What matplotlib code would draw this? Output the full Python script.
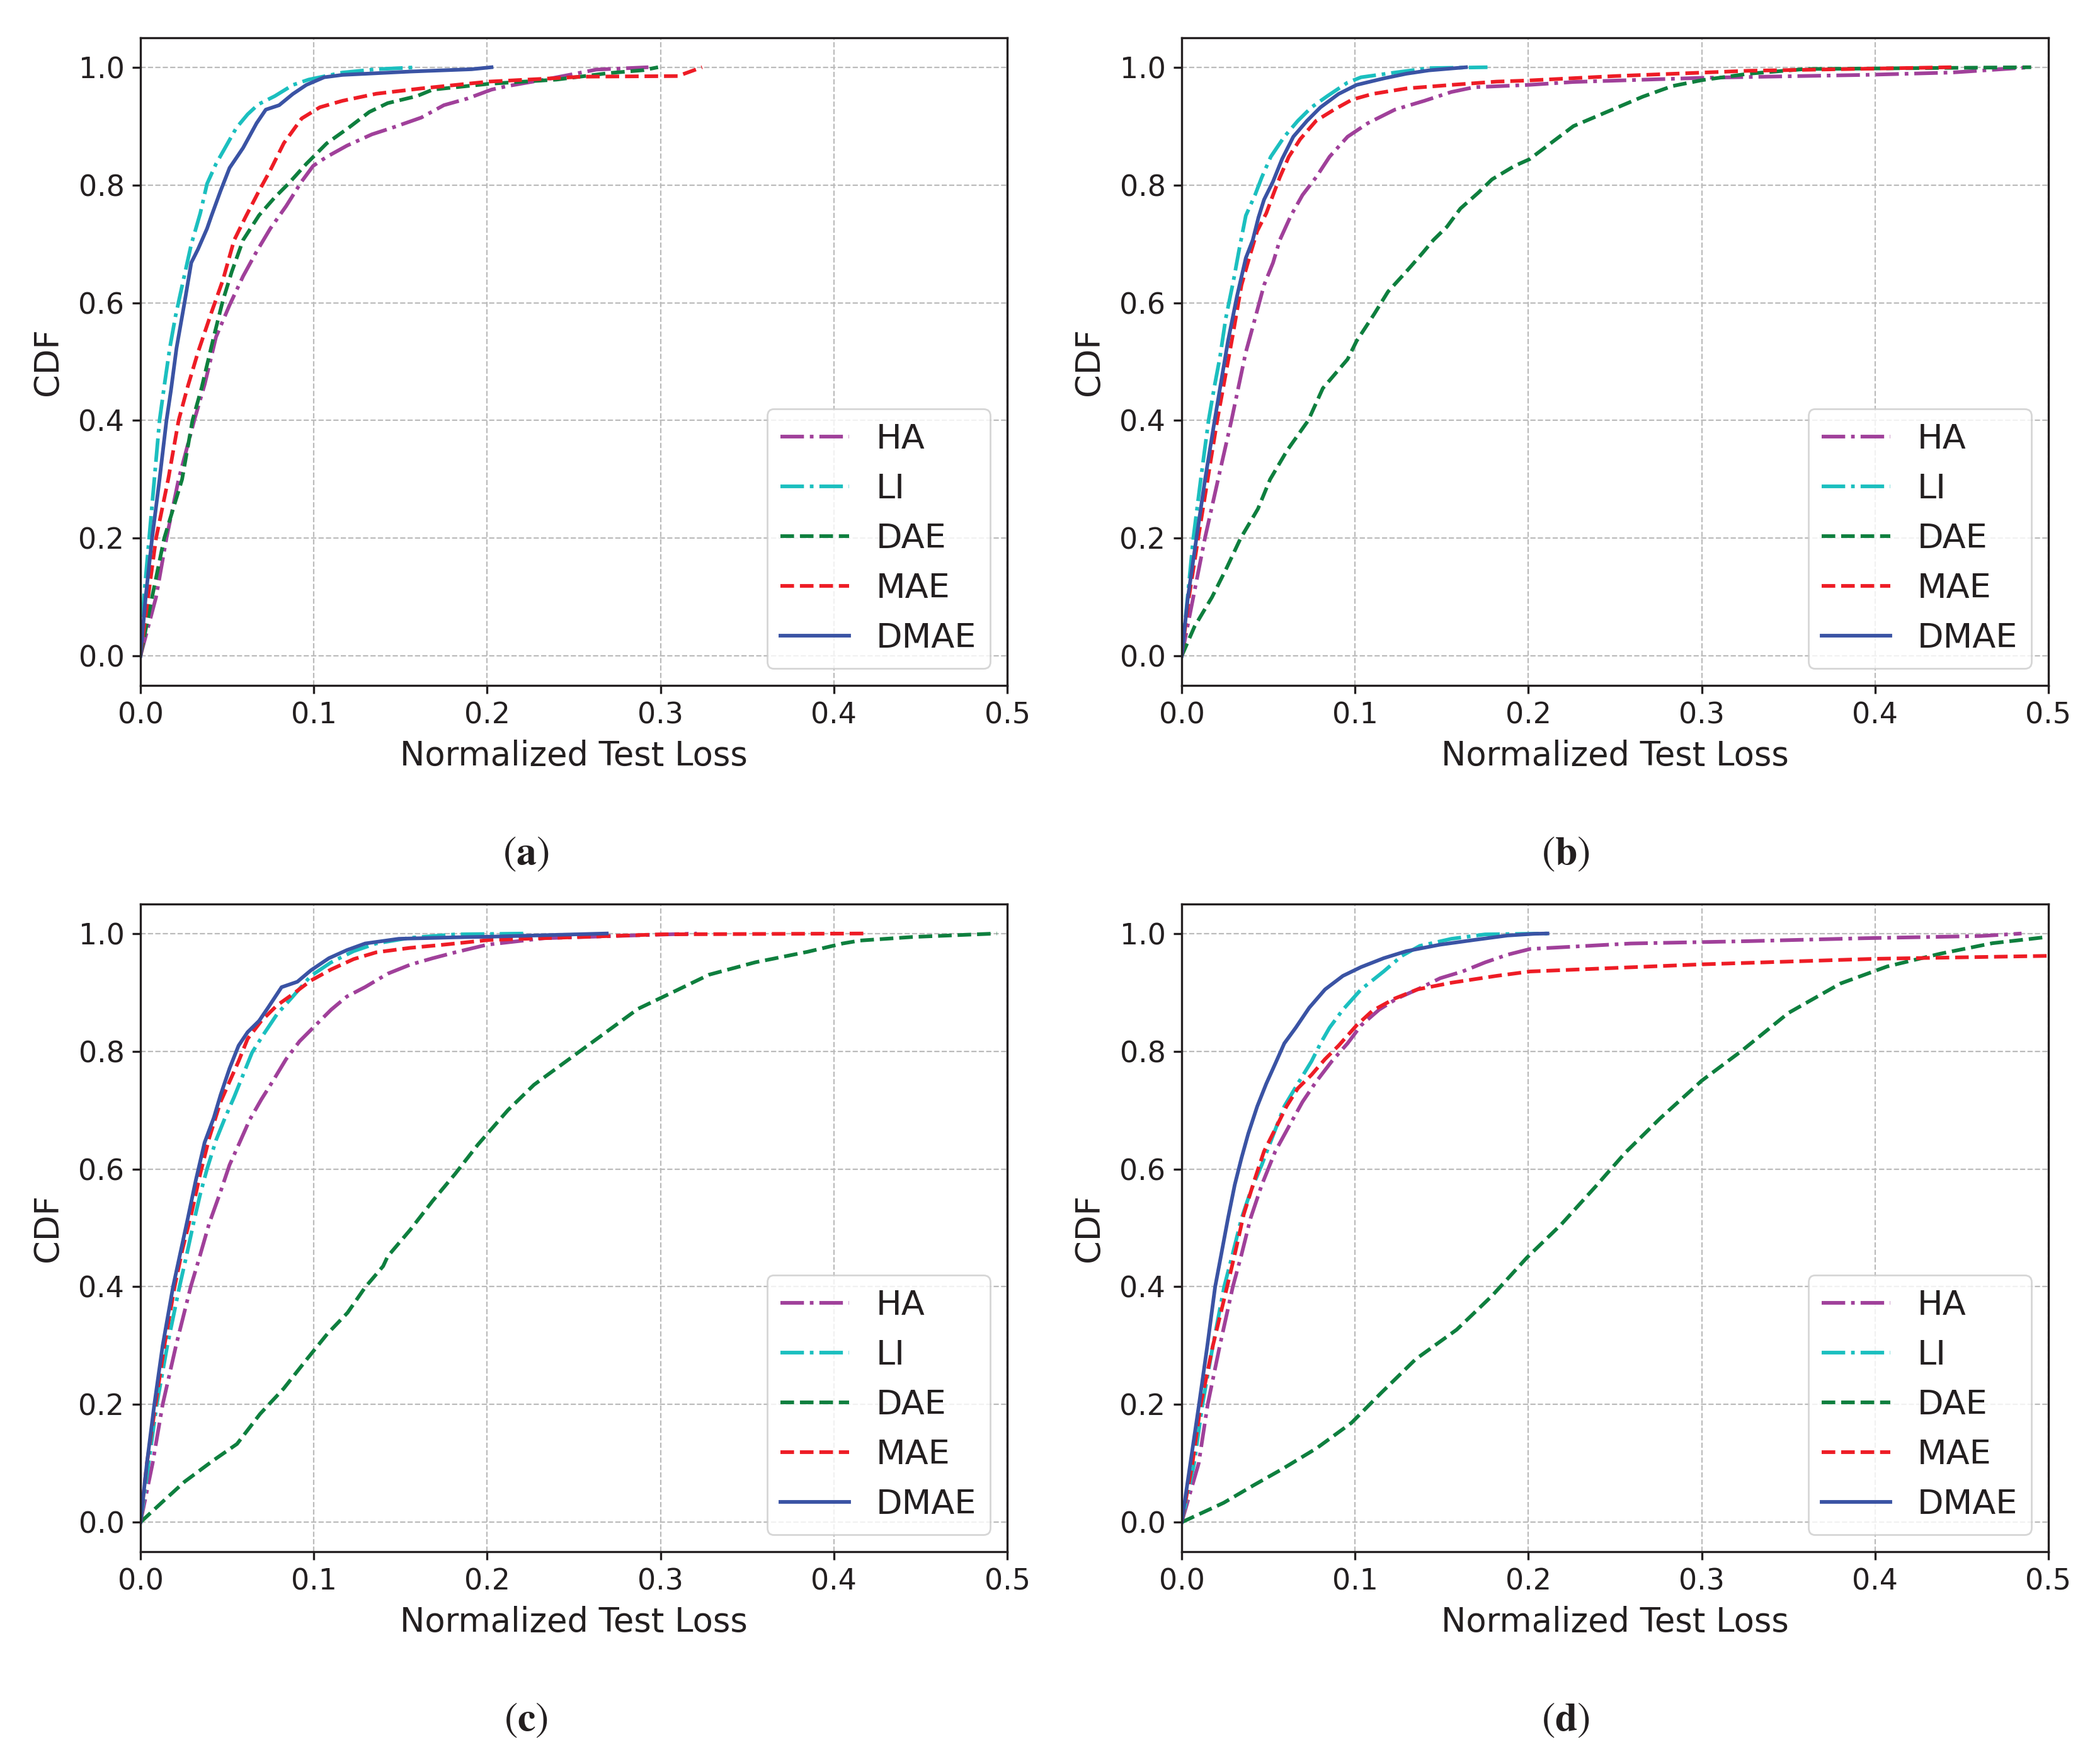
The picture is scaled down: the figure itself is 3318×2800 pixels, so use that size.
import matplotlib
matplotlib.use("Agg")
import matplotlib.pyplot as plt

# ---------------- data ----------------
METHODS = ["HA", "LI", "DAE", "MAE", "DMAE"]
PANELS = ["a", "b", "c", "d"]
X_TICKS = [0.0, 0.1, 0.2, 0.3, 0.4, 0.5]
Y_TICKS = [0.0, 0.2, 0.4, 0.6, 0.8, 1.0]
X_LABEL = "Normalized Test Loss"
Y_LABEL = "CDF"

# ----- panel (a) -----
A_HA_X = [0, 0.009, 0.015, 0.022, 0.031, 0.0371, 0.0436, 0.0514, 0.0592, 0.067, 0.0749, 0.084, 0.093, 0.0996, 0.1074, 0.1191, 0.1335, 0.145, 0.162, 0.175, 0.1888, 0.2025, 0.2117, 0.235, 0.263, 0.293]
A_HA_Y = [0, 0.1, 0.2, 0.3, 0.4, 0.462, 0.542, 0.596, 0.645, 0.687, 0.726, 0.764, 0.806, 0.8324, 0.8477, 0.8668, 0.886, 0.897, 0.9145, 0.9355, 0.947, 0.962, 0.968, 0.98, 0.996, 1.0]
A_LI_X = [0, 0.002, 0.005, 0.008, 0.011, 0.0137, 0.0169, 0.0202, 0.0247, 0.0293, 0.0345, 0.0384, 0.0436, 0.0488, 0.0553, 0.0618, 0.068, 0.0775, 0.088, 0.097, 0.1165, 0.136, 0.160]
A_LI_Y = [0, 0.1, 0.2, 0.3, 0.4, 0.458, 0.523, 0.577, 0.638, 0.699, 0.752, 0.802, 0.836, 0.863, 0.897, 0.920, 0.937, 0.951, 0.970, 0.979, 0.991, 0.9966, 1.0]
A_DAE_X = [0, 0.0067, 0.0137, 0.024, 0.030, 0.0352, 0.0423, 0.0475, 0.0527, 0.0592, 0.0684, 0.0775, 0.0853, 0.0957, 0.1074, 0.120, 0.132, 0.1426, 0.1595, 0.1686, 0.201, 0.24, 0.27, 0.29, 0.2986]
A_DAE_Y = [0, 0.1, 0.2, 0.3, 0.4, 0.4546, 0.5424, 0.6034, 0.653, 0.7065, 0.7485, 0.779, 0.802, 0.836, 0.8706, 0.897, 0.924, 0.939, 0.951, 0.962, 0.9718, 0.979, 0.99, 0.995, 1.0]
A_MAE_X = [0, 0.0044, 0.009, 0.016, 0.022, 0.0273, 0.0332, 0.041, 0.0475, 0.054, 0.0605, 0.0684, 0.0749, 0.0827, 0.093, 0.1035, 0.1165, 0.136, 0.162, 0.201, 0.23, 0.255, 0.31, 0.324]
A_MAE_Y = [0, 0.1, 0.2, 0.3, 0.4, 0.458, 0.516, 0.584, 0.638, 0.706, 0.745, 0.790, 0.825, 0.871, 0.913, 0.932, 0.943, 0.955, 0.964, 0.9756, 0.980, 0.984, 0.985, 1.0]
A_DMAE_X = [0, 0.003, 0.0067, 0.011, 0.015, 0.0176, 0.0208, 0.0254, 0.0293, 0.0332, 0.0384, 0.041, 0.0462, 0.0514, 0.0592, 0.067, 0.0723, 0.080, 0.0879, 0.0957, 0.106, 0.1165, 0.1556, 0.191, 0.2025]
A_DMAE_Y = [0, 0.1, 0.2, 0.3, 0.4, 0.4515, 0.523, 0.600, 0.668, 0.691, 0.726, 0.748, 0.790, 0.829, 0.863, 0.905, 0.928, 0.9355, 0.9546, 0.970, 0.983, 0.987, 0.9927, 0.9966, 1.0]

# ----- panel (b) -----
B_HA_X = [0, 0.0067, 0.0134, 0.021, 0.0287, 0.0326, 0.037, 0.0423, 0.0475, 0.0527, 0.0566, 0.063, 0.0697, 0.0775, 0.0853, 0.0957, 0.1074, 0.123, 0.14, 0.1556, 0.1686, 0.200, 0.226, 0.30, 0.394, 0.444, 0.49]
B_HA_Y = [0, 0.1, 0.2, 0.3, 0.4, 0.4546, 0.516, 0.573, 0.630, 0.668, 0.7065, 0.748, 0.783, 0.813, 0.848, 0.882, 0.905, 0.928, 0.943, 0.958, 0.966, 0.970, 0.975, 0.982, 0.987, 0.991, 1.0]
B_LI_X = [0, 0.0034, 0.0067, 0.011, 0.0155, 0.0189, 0.0221, 0.0254, 0.0299, 0.0332, 0.037, 0.0423, 0.0462, 0.0514, 0.0592, 0.067, 0.0749, 0.084, 0.0957, 0.1035, 0.123, 0.1426, 0.1764]
B_LI_Y = [0, 0.1, 0.2, 0.3, 0.4, 0.458, 0.508, 0.573, 0.638, 0.691, 0.748, 0.783, 0.813, 0.848, 0.882, 0.909, 0.932, 0.951, 0.974, 0.983, 0.991, 0.9985, 1.0]
B_DAE_X = [0, 0.0074, 0.0175, 0.026, 0.034, 0.044, 0.051, 0.061, 0.073, 0.0814, 0.0957, 0.1009, 0.111, 0.119, 0.1296, 0.1387, 0.1452, 0.153, 0.1608, 0.171, 0.179, 0.192, 0.2006, 0.226, 0.246, 0.266, 0.283, 0.30, 0.327, 0.36, 0.49]
B_DAE_Y = [0, 0.05, 0.1, 0.15, 0.2, 0.25, 0.3, 0.35, 0.4, 0.4546, 0.504, 0.535, 0.5805, 0.6187, 0.653, 0.6836, 0.7065, 0.729, 0.760, 0.7866, 0.8095, 0.8324, 0.8437, 0.90, 0.925, 0.95, 0.968, 0.978, 0.989, 0.997, 1.0]
B_MAE_X = [0, 0.0042, 0.0095, 0.015, 0.0205, 0.0241, 0.0293, 0.0345, 0.0397, 0.0436, 0.0488, 0.0527, 0.0566, 0.0618, 0.0684, 0.0775, 0.0879, 0.0983, 0.110, 0.1296, 0.1556, 0.1816, 0.200, 0.25, 0.327, 0.444]
B_MAE_Y = [0, 0.1, 0.2, 0.3, 0.4, 0.458, 0.542, 0.630, 0.6836, 0.722, 0.752, 0.783, 0.813, 0.848, 0.878, 0.909, 0.928, 0.945, 0.9546, 0.964, 0.970, 0.9756, 0.9775, 0.985, 0.994, 1.0]
B_DMAE_X = [0, 0.0036, 0.0085, 0.0135, 0.019, 0.0221, 0.0267, 0.0319, 0.037, 0.041, 0.0443, 0.0475, 0.0527, 0.0579, 0.0644, 0.0723, 0.0801, 0.0905, 0.1009, 0.1165, 0.1296, 0.1426, 0.164]
B_DMAE_Y = [0, 0.1, 0.2, 0.3, 0.4, 0.4546, 0.5347, 0.611, 0.676, 0.7065, 0.745, 0.775, 0.806, 0.844, 0.882, 0.909, 0.932, 0.9546, 0.970, 0.981, 0.989, 0.9947, 1.0]

# ----- panel (c) -----
C_HA_X = [0, 0.007, 0.0128, 0.0205, 0.029, 0.0345, 0.0397, 0.0462, 0.0514, 0.0566, 0.063, 0.0697, 0.0762, 0.084, 0.0918, 0.0996, 0.110, 0.1191, 0.1296, 0.1426, 0.1556, 0.1686, 0.1816, 0.200, 0.233, 0.321]
C_HA_Y = [0, 0.1, 0.2, 0.3, 0.4, 0.4546, 0.508, 0.5615, 0.607, 0.641, 0.6836, 0.718, 0.7485, 0.7866, 0.817, 0.840, 0.8706, 0.893, 0.909, 0.9317, 0.947, 0.958, 0.968, 0.981, 0.992, 1.0]
C_LI_X = [0, 0.0047, 0.0094, 0.0155, 0.0225, 0.0267, 0.0306, 0.0345, 0.0384, 0.0436, 0.0488, 0.054, 0.0592, 0.0644, 0.071, 0.0788, 0.0879, 0.0983, 0.110, 0.123, 0.136, 0.1556, 0.1816, 0.224]
C_LI_Y = [0, 0.1, 0.2, 0.3, 0.4, 0.4546, 0.508, 0.5576, 0.600, 0.649, 0.687, 0.722, 0.760, 0.798, 0.8286, 0.863, 0.893, 0.928, 0.951, 0.970, 0.983, 0.9927, 0.9985, 1.0]
C_DAE_X = [0, 0.0121, 0.0255, 0.042, 0.0557, 0.069, 0.0826, 0.096, 0.1078, 0.1195, 0.1296, 0.140, 0.1426, 0.1556, 0.1686, 0.1816, 0.1947, 0.212, 0.227, 0.247, 0.267, 0.287, 0.3076, 0.328, 0.3546, 0.385, 0.405, 0.415, 0.445, 0.494]
C_DAE_Y = [0, 0.033, 0.069, 0.105, 0.133, 0.184, 0.227, 0.277, 0.320, 0.356, 0.399, 0.435, 0.4515, 0.4966, 0.546, 0.592, 0.6416, 0.700, 0.743, 0.786, 0.829, 0.872, 0.901, 0.930, 0.951, 0.969, 0.983, 0.988, 0.994, 1.0]
C_MAE_X = [0, 0.0037, 0.0087, 0.0138, 0.0197, 0.0241, 0.0293, 0.0345, 0.0397, 0.0462, 0.0514, 0.0566, 0.0618, 0.0697, 0.0788, 0.0879, 0.0983, 0.110, 0.123, 0.136, 0.1556, 0.175, 0.201, 0.30, 0.418]
C_MAE_Y = [0, 0.1, 0.2, 0.3, 0.4, 0.462, 0.523, 0.592, 0.653, 0.714, 0.7485, 0.783, 0.821, 0.8515, 0.878, 0.897, 0.920, 0.939, 0.9565, 0.968, 0.9756, 0.981, 0.989, 0.9985, 1.0]
C_DMAE_X = [0, 0.0037, 0.008, 0.0128, 0.0188, 0.0228, 0.0273, 0.0319, 0.037, 0.0423, 0.0462, 0.0514, 0.0566, 0.0618, 0.0684, 0.0736, 0.0814, 0.0905, 0.0983, 0.1087, 0.1191, 0.1296, 0.149, 0.1816, 0.2035, 0.269]
C_DMAE_Y = [0, 0.1, 0.2, 0.3, 0.4, 0.4546, 0.516, 0.5805, 0.645, 0.687, 0.7256, 0.771, 0.8095, 0.8324, 0.8515, 0.874, 0.9088, 0.918, 0.9374, 0.958, 0.9718, 0.983, 0.991, 0.9935, 0.9947, 1.0]

# ----- panel (d) -----
D_HA_X = [0, 0.0098, 0.015, 0.022, 0.0295, 0.0345, 0.0397, 0.0462, 0.054, 0.0618, 0.0697, 0.0775, 0.0866, 0.0957, 0.1035, 0.1139, 0.1243, 0.136, 0.1491, 0.162, 0.1751, 0.188, 0.201, 0.259, 0.327, 0.394, 0.461, 0.4845]
D_HA_Y = [0, 0.1, 0.2, 0.3, 0.4, 0.4546, 0.516, 0.573, 0.630, 0.672, 0.714, 0.748, 0.783, 0.8134, 0.844, 0.8706, 0.8897, 0.905, 0.924, 0.9355, 0.951, 0.964, 0.9737, 0.983, 0.987, 0.992, 0.9957, 1.0]
D_LI_X = [0, 0.0072, 0.012, 0.018, 0.0245, 0.0293, 0.0345, 0.0397, 0.0462, 0.0527, 0.0592, 0.067, 0.0749, 0.0801, 0.0853, 0.093, 0.1035, 0.1165, 0.127, 0.1374, 0.1556, 0.175, 0.211]
D_LI_Y = [0, 0.1, 0.2, 0.3, 0.4, 0.4546, 0.516, 0.5615, 0.607, 0.657, 0.7065, 0.745, 0.783, 0.8134, 0.840, 0.8706, 0.905, 0.9355, 0.962, 0.979, 0.991, 0.9985, 1.0]
D_DAE_X = [0, 0.0242, 0.041, 0.0578, 0.078, 0.098, 0.115, 0.135, 0.1586, 0.179, 0.199, 0.219, 0.239, 0.256, 0.276, 0.30, 0.323, 0.350, 0.380, 0.407, 0.4375, 0.4677, 0.5]
D_DAE_Y = [0, 0.033, 0.062, 0.090, 0.126, 0.169, 0.2195, 0.277, 0.327, 0.3845, 0.449, 0.506, 0.571, 0.628, 0.686, 0.750, 0.8006, 0.865, 0.915, 0.944, 0.9656, 0.9835, 0.9943]
D_MAE_X = [0, 0.0062, 0.011, 0.018, 0.0262, 0.0306, 0.0358, 0.0423, 0.0475, 0.054, 0.0605, 0.067, 0.0749, 0.0827, 0.0905, 0.1009, 0.110, 0.123, 0.136, 0.1556, 0.1816, 0.201, 0.30, 0.40, 0.5]
D_MAE_Y = [0, 0.1, 0.2, 0.3, 0.4, 0.4546, 0.523, 0.584, 0.630, 0.668, 0.7065, 0.737, 0.760, 0.7866, 0.8095, 0.844, 0.8687, 0.8897, 0.905, 0.9164, 0.928, 0.9355, 0.9476, 0.957, 0.962]
D_DMAE_X = [0, 0.005, 0.010, 0.0148, 0.0193, 0.0228, 0.0267, 0.0306, 0.0345, 0.0384, 0.0436, 0.0488, 0.054, 0.0592, 0.0658, 0.0736, 0.0827, 0.093, 0.1035, 0.1165, 0.1296, 0.149, 0.1686, 0.188, 0.2035, 0.211]
D_DMAE_Y = [0, 0.1, 0.2, 0.3, 0.4, 0.4546, 0.516, 0.573, 0.6187, 0.660, 0.7065, 0.745, 0.779, 0.8134, 0.840, 0.874, 0.905, 0.928, 0.943, 0.958, 0.970, 0.981, 0.989, 0.9966, 0.9995, 1.0]

CURVES = {
    "a": [(A_HA_X, A_HA_Y), (A_LI_X, A_LI_Y), (A_DAE_X, A_DAE_Y), (A_MAE_X, A_MAE_Y), (A_DMAE_X, A_DMAE_Y)],
    "b": [(B_HA_X, B_HA_Y), (B_LI_X, B_LI_Y), (B_DAE_X, B_DAE_Y), (B_MAE_X, B_MAE_Y), (B_DMAE_X, B_DMAE_Y)],
    "c": [(C_HA_X, C_HA_Y), (C_LI_X, C_LI_Y), (C_DAE_X, C_DAE_Y), (C_MAE_X, C_MAE_Y), (C_DMAE_X, C_DMAE_Y)],
    "d": [(D_HA_X, D_HA_Y), (D_LI_X, D_LI_Y), (D_DAE_X, D_DAE_Y), (D_MAE_X, D_MAE_Y), (D_DMAE_X, D_DMAE_Y)],
}

# ---------------- styles ----------------
COLORS = ["#a0409a", "#1bbfbf", "#0e7f3e", "#ee1c25", "#3a53a4"]
STYLES = ["-.", "-.", "--", "--", "-"]
INK = "#231f20"

plt.rcParams["font.family"] = ["DejaVu Sans"]
plt.rcParams["mathtext.fontset"] = "stix"

W, H = 3318, 2800
fig = plt.figure(figsize=(W / 200, H / 200), dpi=200)

ax_left = [223 / W, 1876 / W]
ax_bottom = [1 - 1088 / H, 1 - 2463 / H]
ax_w = 1376 / W
ax_h = 1028 / H
cap_x = [835 / W, 2486 / W]
cap_y = [1 - 1356 / H, 1 - 2731 / H]

for idx, p in enumerate(PANELS):
    r, c = divmod(idx, 2)
    ax = fig.add_axes([ax_left[c], ax_bottom[r], ax_w, ax_h])
    for m, (xs, ys), col, ls in zip(METHODS, CURVES[p], COLORS, STYLES):
        ax.plot(xs, ys, color=col, linestyle=ls, linewidth=2.1, label=m)
    ax.set_xlim(0, 0.5)
    ax.set_ylim(-0.05, 1.05)
    ax.set_xticks(X_TICKS)
    ax.set_yticks(Y_TICKS)
    ax.set_xticklabels([f"{v:.1f}" for v in X_TICKS])
    ax.set_yticklabels([f"{v:.1f}" for v in Y_TICKS])
    ax.grid(True, linestyle="--", linewidth=0.8, color="#bbbbbb")
    ax.set_axisbelow(True)
    for s in ax.spines.values():
        s.set_linewidth(1.2)
        s.set_color(INK)
    ax.tick_params(axis="both", labelsize=16.5, width=1.2, length=4.7, pad=4.5,
                   color=INK, labelcolor=INK)
    ax.set_xlabel(X_LABEL, fontsize=19, color=INK, labelpad=5.5)
    ax.set_ylabel(Y_LABEL, fontsize=19, color=INK, labelpad=8)
    leg = ax.legend(loc="lower right", fontsize=19.5, labelspacing=0.5, framealpha=0.8)
    for t in leg.get_texts():
        t.set_color(INK)
    fig.text(cap_x[c], cap_y[r], r"($\mathbf{%s}$)" % p, fontsize=23, family="STIXGeneral",
             ha="center", va="center", color=INK)

fig.savefig("out.png", dpi=200)
